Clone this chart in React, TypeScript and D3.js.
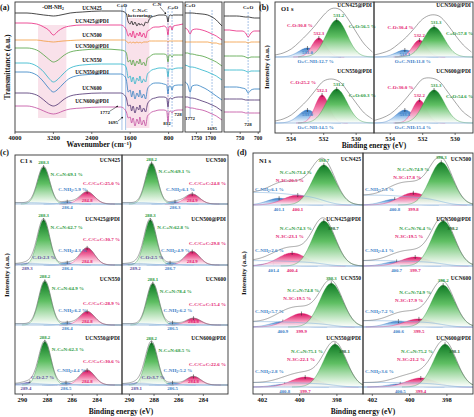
import React from 'react';
import * as d3 from 'd3';

const FONT = "'Liberation Serif','Times New Roman',Times,serif";

// ---------------- (a) FTIR ----------------
const FTIR_SAMPLES = ['UCN425', 'UCN425@PDI', 'UCN500', 'UCN500@PDI', 'UCN550', 'UCN550@PDI', 'UCN600', 'UCN600@PDI'];
const FTIR_COLORS = ['#1a1a1a', '#e8237d', '#f39a3c', '#4fa13f', '#27b3c9', '#2f7fc1', '#4b2f6e', '#c04a9e'];
const FTIR_WN = [4000, 3750, 3550, 3400, 3300, 3200, 3100, 3000, 2850, 2600, 2200, 1800, 1720, 1680, 1640, 1600, 1570, 1540, 1500, 1460, 1420, 1400, 1360, 1320, 1280, 1240, 1200, 1150, 1080, 1000, 900, 840, 812, 790, 760, 728, 700, 600, 500];
const T_UCN425 = [119, 119, 118, 117, 116.5, 116, 116.5, 117.5, 119, 120, 121, 121, 120, 118, 110, 108, 111, 107, 110, 106, 109, 107, 108, 106, 110, 109, 113, 115, 116, 117, 117, 116, 110, 116, 117, 116, 117, 117, 117];
const T_UCN425PDI = [109, 109, 108, 105, 102, 97, 101, 104, 106, 107, 107, 107, 105, 102, 96, 99, 95, 101, 94, 99, 96, 100, 95, 99, 94, 101, 102, 104, 105, 105, 106, 104, 97, 105, 106, 102, 106, 107, 108];
const T_UCN500 = [92, 92, 92, 91, 90.5, 90, 90.5, 91, 91.5, 92, 92, 92, 92, 91, 89, 90, 89, 90, 89, 90, 89, 90, 89, 90, 90, 90, 91, 91, 91, 91, 91, 91, 90, 91, 91, 91, 91, 91, 91];
const T_UCN500PDI = [84, 84, 82, 77, 73, 70, 72, 76, 80, 82, 83, 82, 81, 79, 70, 72, 67, 72, 66, 71, 68, 73, 67, 70, 66, 74, 75, 77, 78, 78, 78, 77, 70, 77, 77, 75, 77, 77, 77];
const T_UCN550 = [69, 69, 66, 60, 54, 50, 53, 58, 64, 67, 68, 68, 67, 64, 54, 56, 50, 55, 48, 54, 51, 56, 49, 53, 50, 58, 60, 62, 63, 64, 64, 63, 55, 63, 63, 62, 63, 64, 64];
const T_UCN550PDI = [60, 60, 57, 50, 44, 40, 43, 48, 54, 57, 58, 58, 56, 52, 40, 42, 35, 41, 33, 39, 35, 42, 34, 38, 33, 43, 46, 48, 49, 49, 48, 47, 38, 46, 46, 42, 46, 47, 47];
const T_UCN600 = [39, 39, 37, 32, 28, 26, 28, 32, 36, 38, 39, 39, 37, 34, 26, 27, 21, 26, 19, 25, 22, 27, 20, 24, 20, 28, 31, 33, 34, 35, 35, 34, 25, 33, 34, 33, 34, 35, 35];
const T_UCN600PDI = [26, 26, 24, 21, 19, 18, 19, 21, 23, 24, 25, 25, 23, 20, 14, 15, 9, 14, 6, 13, 8, 15, 7, 12, 6, 16, 18, 20, 21, 22, 22, 21, 10, 20, 21, 19, 21, 22, 22];
const FTIR_T = [T_UCN425, T_UCN425PDI, T_UCN500, T_UCN500PDI, T_UCN550, T_UCN550PDI, T_UCN600, T_UCN600PDI];

const INSET1_WN = [1790, 1780, 1772, 1765, 1750, 1730, 1710, 1695, 1680, 1670, 1660];
const INSET1_T = [
  [119, 119, 119, 119, 118.5, 118, 117, 115, 112, 109, 106],
  [104, 102, 98, 102, 103, 102, 100, 98, 96, 94, 92],
  [90, 90, 90, 90, 90, 90, 90, 89, 89, 88, 88],
  [79, 79, 78, 78, 77, 76, 74, 72, 70, 68, 66],
  [67, 66, 65, 65, 64, 62, 60, 58, 56, 54, 52],
  [50, 47, 40, 46, 47, 45, 42, 39, 36, 34, 32],
  [35, 35, 34, 34, 33, 31, 29, 27, 25, 23, 21],
  [25, 25, 24, 24, 23, 22, 20, 18, 16, 14, 12],
];
const INSET2_WN = [795, 780, 760, 745, 735, 728, 720, 710, 695];
const INSET2_T = [
  [116, 116, 116, 115.5, 115, 115, 114.5, 114, 114],
  [102, 102, 101, 101, 99, 95, 99, 101, 101],
  [90, 90, 90, 90, 90, 89, 90, 90, 90],
  [76, 76, 76, 76, 75, 74, 75, 75, 75],
  [62, 62, 62, 62, 61, 60, 61, 61, 61],
  [45, 45, 45, 44, 43, 39, 42, 43, 43],
  [33, 33, 33, 33, 32, 32, 32, 32, 32],
  [20, 20, 20, 20, 19, 19, 19, 19, 19],
];
const FTIR_TICKS = [4000, 3200, 2400, 1600, 800];
const INSET1_TICKS = [1750, 1700];
const INSET2_TICKS = [750, 700];

// ---------------- (b) O1s ----------------
const O1S_SAMPLES = ['UCN425@PDI', 'UCN500@PDI', 'UCN550@PDI', 'UCN600@PDI'];
const O1S_CEQO = [[531.2, 56.5, 0.74], [531.3, 57.8, 0.6], [531.2, 60.3, 0.68], [531.3, 54.6, 0.66]];
const O1S_CO = [[532.3, 30.8, 0.38], [532.2, 30.4, 0.34], [532.1, 25.2, 0.56], [532.2, 30.0, 0.46]];
const O1S_OCNH = [[533.0, 12.7, 0.18], [533.1, 11.8, 0.14], [533.0, 14.5, 0.26], [533.1, 15.4, 0.26]];
const O1S_FWHM = [1.5, 1.0, 1.3];
const O1S_ENV_BE = [535, 534.5, 534, 533.5, 533, 532.5, 532, 531.5, 531, 530.5, 530, 529.5, 529];
const O1S_ENV = [
  [0.04, 0.08, 0.16, 0.3, 0.46, 0.64, 0.84, 0.97, 0.95, 0.76, 0.5, 0.26, 0.1],
  [0.04, 0.08, 0.14, 0.26, 0.4, 0.58, 0.76, 0.84, 0.82, 0.66, 0.44, 0.24, 0.1],
  [0.04, 0.08, 0.16, 0.3, 0.46, 0.66, 0.84, 0.88, 0.82, 0.62, 0.4, 0.2, 0.08],
  [0.05, 0.1, 0.18, 0.32, 0.5, 0.7, 0.88, 0.9, 0.84, 0.64, 0.42, 0.22, 0.1],
];
const O1S_TICKS = [534, 532, 530];

// ---------------- (c) C1s ----------------
const C1S_SAMPLES = ['UCN425', 'UCN500', 'UCN425@PDI', 'UCN500@PDI', 'UCN550', 'UCN600', 'UCN550@PDI', 'UCN600@PDI'];
const C1S_NCN = [[288.3, 69.1, 0.82], [288.2, 69.1, 0.9], [288.3, 62.7, 1.0], [288.3, 62.8, 1.0], [288.2, 64.9, 0.97], [288.1, 78.4, 0.92], [288.2, 62.3, 0.96], [288.2, 68.5, 0.94]];
const C1S_CNH2 = [[286.4, 5.9, 0.05], [286.3, 6.1, 0.05], [286.4, 4.3, 0.05], [286.7, 4.9, 0.05], [286.4, 6.2, 0.05], [286.5, 6.2, 0.05], [286.5, 4.4, 0.05], [286.5, 5.2, 0.05]];
const C1S_CC = [[284.8, 25.0, 0.27], [284.9, 24.8, 0.22], [284.8, 30.7, 0.38], [284.9, 29.8, 0.3], [284.8, 28.9, 0.3], [284.8, 15.4, 0.15], [284.8, 30.6, 0.33], [284.8, 22.6, 0.19]];
const C1S_CO = [null, null, [289.3, 2.3, 0.05], [289.2, 2.5, 0.04], null, null, [289.4, 2.7, 0.06], [289.1, 3.7, 0.06]];
const C1S_FWHM = [1.15, 1.2, 1.4, 1.4];
const C1S_TICKS = [290, 288, 286, 284];

// ---------------- (d) N1s ----------------
const N1S_SAMPLES = ['UCN425', 'UCN500', 'UCN425@PDI', 'UCN500@PDI', 'UCN550', 'UCN600', 'UCN550@PDI', 'UCN600@PDI'];
const N1S_NCN = [[398.7, 73.4, 0.89], [398.3, 74.9, 0.95], [398.7, 74.3, 1.0], [398.2, 76.4, 1.0], [398.3, 74.8, 0.97], [398.2, 74.9, 0.93], [398.1, 75.1, 0.95], [398.1, 75.2, 0.95]];
const N1S_N3C = [[400.1, 20.5, 0.22], [399.8, 17.8, 0.27], [400.4, 23.1, 0.29], [399.7, 19.5, 0.2], [399.9, 19.5, 0.3], [399.5, 17.9, 0.18], [399.7, 22.1, 0.22], [399.4, 21.2, 0.2]];
const N1S_CNH2 = [[401.1, 6.1, 0.15], [400.8, 7.3, 0.13], [401.4, 2.6, 0.06], [400.7, 4.1, 0.1], [400.9, 5.7, 0.12], [400.6, 7.2, 0.13], [400.8, 2.8, 0.06], [400.5, 3.6, 0.07]];
const N1S_BG = [0.28, 0.22, 0.12, 0.12, 0.12, 0.14, 0.1, 0.1];
const N1S_FWHM = [1.45, 1.8, 1.5];
const N1S_TICKS = [402, 400, 398];

// ---------------- styles / layout ----------------
const GREEN = '#27973a';
const PINK = '#e3176d';
const BLUE = '#3b7ec6';
const PURPLE = '#5a4a9c';
const TXT = '#111';
const N1S_VALUE_INSIDE = [false, false, true, true, false, false, true, true];

const gauss = (x: number, c: number, h: number, w: number) => h * Math.exp((-4 * Math.LN2 * (x - c) * (x - c)) / (w * w));

const Sub2 = ({ pre, post }: { pre: string; post: string }) => (
  <>
    {pre}
    <tspan fontSize="0.7em" dy={1.3}>2</tspan>
    <tspan dy={-1.3}>{post}</tspan>
  </>
);

function grid(a: number, b: number, step: number) {
  const out: number[] = [];
  for (let v = a; v <= b + 1e-9; v += step) out.push(v);
  return out;
}

type Peak = { be: number; h: number; w: number; grad: string; stroke: string };

function PeakSet({ xs, base, unit, peaks, env, bg, clip }: { xs: d3.ScaleLinear<number, number>; base: number; unit: number; peaks: Peak[]; env?: [number, number][]; bg?: number; clip: string }) {
  const dom = xs.domain();
  const lo = Math.min(dom[0], dom[1]);
  const hi = Math.max(dom[0], dom[1]);
  const g = grid(lo, hi, 0.03);
  const area = d3.area<[number, number]>().x(d => xs(d[0])).y0(base).y1(d => base - d[1] * unit).curve(d3.curveBasis);
  const line = d3.line<[number, number]>().x(d => xs(d[0])).y(d => base - d[1] * unit).curve(d3.curveBasis);
  let envelope: [number, number][] = env || [];
  let bgLine: [number, number][] = [];
  if (!env) {
    const sums = g.map(x => peaks.reduce((s, p) => s + gauss(x, p.be, p.h, p.w), 0));
    const total = d3.sum(sums);
    let cum = 0;
    const bgs = sums.map(s => { cum += s; return (bg || 0) * cum / total; });
    envelope = g.map((x, i) => [x, sums[i] + bgs[i]]);
    bgLine = g.map((x, i) => [x, bgs[i]]);
  }
  return (
    <g clipPath={`url(#${clip})`}>
      {peaks.map((p, i) => {
        const pts: [number, number][] = g.filter(x => Math.abs(x - p.be) < p.w * 1.6).map(x => [x, gauss(x, p.be, p.h, p.w)]);
        return (
          <g key={i}>
            <path d={area(pts) || ''} fill={`url(#${p.grad})`} />
            <path d={line(pts) || ''} fill="none" stroke={p.stroke} strokeWidth={0.5} opacity={0.8} />
            <line x1={xs(p.be)} x2={xs(p.be)} y1={base - p.h * unit - 2} y2={base - p.h * unit + 2} stroke="#333" strokeWidth={0.6} />
          </g>
        );
      })}
      {bgLine.length > 0 && <path d={line(bgLine) || ''} fill="none" stroke="#7fb0dc" strokeWidth={0.6} />}
      <line x1={xs(hi)} x2={xs(lo)} y1={base} y2={base} stroke="#6f9fd0" strokeWidth={0.6} />
      <path d={(env ? d3.line<[number, number]>().x(d => xs(d[0])).y(d => base - d[1] * unit).curve(d3.curveCatmullRom)(envelope) : line(envelope)) || ''} fill="none" stroke="#6a6a6a" strokeWidth={0.6} />
    </g>
  );
}

function Frame({ x0, x1, y0, y1 }: { x0: number; x1: number; y0: number; y1: number }) {
  return <rect x={x0} y={y0} width={x1 - x0} height={y1 - y0} fill="none" stroke="#333" strokeWidth={0.9} />;
}

function XTicks({ xs, ticks, y, fs = 6.5 }: { xs: d3.ScaleLinear<number, number>; ticks: number[]; y: number; fs?: number }) {
  return (
    <g>
      {ticks.map(t => (
        <g key={t}>
          <line x1={xs(t)} x2={xs(t)} y1={y} y2={y + 2} stroke="#333" strokeWidth={0.7} />
          <text x={xs(t)} y={y + 8} textAnchor="middle" fontSize={fs} fontWeight="bold" fill={TXT}>{t}</text>
        </g>
      ))}
    </g>
  );
}

function PanelA() {
  const xA = d3.scaleLinear().domain([4000, 500]).range([15, 183]);
  const xI1 = d3.scaleLinear().domain([1790, 1660]).range([185, 222]);
  const xI2 = d3.scaleLinear().domain([795, 695]).range([224, 260]);
  const yA = d3.scaleLinear().domain([0, 130]).range([132, 2]);
  const mk = (xs: d3.ScaleLinear<number, number>, wn: number[]) =>
    d3.line<number>().x((_, i) => xs(wn[i])).y(d => yA(d)).curve(d3.curveMonotoneX);
  const labY = [10, 23, 37, 48, 62, 74, 90, 103];
  return (
    <g>
      <clipPath id="clipA"><rect x={15} y={2} width={168} height={130} /></clipPath>
      <clipPath id="clipI1"><rect x={185} y={2} width={37} height={130} /></clipPath>
      <clipPath id="clipI2"><rect x={224} y={2} width={36} height={130} /></clipPath>
      <rect x={xA(3520)} y={yA(107)} width={xA(2930) - xA(3520)} height={yA(14) - yA(107)} fill="#f9e1ea" />
      <rect x={xA(1680)} y={yA(114)} width={xA(1200) - xA(1680)} height={yA(4) - yA(114)} fill="#f9e1ea" />
      <rect x={xA(835)} y={yA(114)} width={xA(795) - xA(835)} height={yA(8) - yA(114)} fill="#f9e1ea" />
      {[1772, 1695].map(w => <line key={w} x1={xA(w)} x2={xA(w)} y1={yA(128)} y2={yA(2)} stroke="#6d9bd6" strokeWidth={0.6} />)}
      {[812, 728].map(w => <line key={w} x1={xA(w)} x2={xA(w)} y1={yA(124)} y2={yA(4)} stroke="#6d9bd6" strokeWidth={0.6} strokeDasharray="2,1" />)}
      <g clipPath="url(#clipA)">
        {FTIR_T.map((t, i) => <path key={i} d={mk(xA, FTIR_WN)(t) || ''} fill="none" stroke={FTIR_COLORS[i]} strokeWidth={0.8} />)}
      </g>
      <line x1={xI1(1772)} x2={xI1(1772)} y1={yA(122)} y2={yA(14)} stroke="#6d9bd6" strokeWidth={0.6} />
      <line x1={xI1(1695)} x2={xI1(1695)} y1={yA(122)} y2={yA(6)} stroke="#6d9bd6" strokeWidth={0.6} strokeDasharray="2,1" />
      <g clipPath="url(#clipI1)">
        {INSET1_T.map((t, i) => <path key={i} d={mk(xI1, INSET1_WN)(t) || ''} fill="none" stroke={FTIR_COLORS[i]} strokeWidth={0.8} />)}
      </g>
      <line x1={xI2(728)} x2={xI2(728)} y1={yA(120)} y2={yA(10)} stroke="#6d9bd6" strokeWidth={0.6} strokeDasharray="2,1" />
      <g clipPath="url(#clipI2)">
        {INSET2_T.map((t, i) => <path key={i} d={mk(xI2, INSET2_WN)(t) || ''} fill="none" stroke={FTIR_COLORS[i]} strokeWidth={0.8} />)}
      </g>
      <Frame x0={15} x1={183} y0={2} y1={132} />
      <Frame x0={185} x1={222} y0={2} y1={132} />
      <Frame x0={224} x1={260} y0={2} y1={132} />
      <XTicks xs={xA} ticks={FTIR_TICKS} y={132} />
      <XTicks xs={xI1} ticks={INSET1_TICKS} y={132} fs={5.5} />
      <XTicks xs={xI2} ticks={INSET2_TICKS} y={132} fs={5.5} />
      <text x={99} y={147} textAnchor="middle" fontSize={7.5} fontWeight="bold" fill={TXT}>Wavenumber (cm<tspan fontSize={5} dy={-2.5}>−1</tspan><tspan dy={2.5}>)</tspan></text>
      <text transform="translate(10,67) rotate(-90)" textAnchor="middle" fontSize={7.5} fontWeight="bold" fill={TXT}>Transmittance (a.u.)</text>
      <text x={0} y={10} fontSize={8} fontWeight="bold" fill={TXT}>(a)</text>
      {FTIR_SAMPLES.map((s, i) => <text key={s} x={92} y={labY[i]} textAnchor="middle" fontSize={5.3} fontWeight="bold" fill={TXT}>{s}</text>)}
      <text x={53} y={9} textAnchor="middle" fontSize={5.3} fontWeight="bold" fill={TXT}>-OH-NH<tspan fontSize={3.8} dy={1.2}>2</tspan></text>
      <text x={122} y={7} textAnchor="middle" fontSize={5} fontWeight="bold" fill={TXT}>C=O</text>
      <text x={140} y={12} textAnchor="middle" fontSize={5} fontWeight="bold" fill={TXT}>C-N=C</text>
      <text x={140} y={17} textAnchor="middle" fontSize={5} fontWeight="bold" fill={TXT}>heterorings</text>
      <text x={157} y={6} textAnchor="middle" fontSize={5} fontWeight="bold" fill={TXT}>C-N</text>
      <line x1={160} y1={7} x2={166} y2={14} stroke="#111" strokeWidth={0.5} markerEnd="url(#arr)" />
      <text x={173} y={9} textAnchor="middle" fontSize={5} fontWeight="bold" fill={TXT}>C=O</text>
      <text x={105} y={114} textAnchor="middle" fontSize={5} fontWeight="bold" fill={TXT}>1772</text>
      <line x1={110} y1={111} x2={118} y2={106} stroke="#111" strokeWidth={0.5} markerEnd="url(#arr)" />
      <text x={113} y={124} textAnchor="middle" fontSize={5} fontWeight="bold" fill={TXT}>1695</text>
      <line x1={118} y1={121} x2={123} y2={117} stroke="#111" strokeWidth={0.5} markerEnd="url(#arr)" />
      <text x={167} y={125} textAnchor="middle" fontSize={5} fontWeight="bold" fill={TXT}>812</text>
      <text x={178} y={116} textAnchor="middle" fontSize={5} fontWeight="bold" fill={TXT}>728</text>
      <text x={xI1(1772)} y={7} textAnchor="middle" fontSize={5} fontWeight="bold" fill={TXT}>C=O</text>
      <text x={xI1(1772)} y={120} textAnchor="middle" fontSize={5} fontWeight="bold" fill={TXT}>1772</text>
      <text x={xI1(1695)} y={130} textAnchor="middle" fontSize={5} fontWeight="bold" fill={TXT}>1695</text>
      <text x={xI2(728)} y={9} textAnchor="middle" fontSize={5} fontWeight="bold" fill={TXT}>C=O</text>
      <text x={xI2(728)} y={126} textAnchor="middle" fontSize={5} fontWeight="bold" fill={TXT}>728</text>
    </g>
  );
}

function PanelB() {
  const cols: [number, number][] = [[275, 374], [374, 473]];
  const bases = [57, 123];
  const unit = 50;
  return (
    <g>
      {cols.map((c, ci) => <clipPath key={ci} id={`clipB${ci}`}><rect x={c[0]} y={2} width={c[1] - c[0]} height={131} /></clipPath>)}
      {O1S_SAMPLES.map((s, i) => {
        const row = Math.floor(i / 2), col = i % 2;
        const xs = d3.scaleLinear().domain([535, 528.9]).range(cols[col]);
        const base = bases[row];
        const g = O1S_CEQO[i], p = O1S_CO[i], b = O1S_OCNH[i];
        const peaks: Peak[] = [
          { be: b[0], h: b[2], w: O1S_FWHM[2], grad: 'gBlue', stroke: BLUE },
          { be: p[0], h: p[2], w: O1S_FWHM[1], grad: 'gPink', stroke: PINK },
          { be: g[0], h: g[2], w: O1S_FWHM[0], grad: 'gGreen', stroke: GREEN },
        ];
        const env: [number, number][] = O1S_ENV_BE.map((be, k) => [be, O1S_ENV[i][k]]);
        const gy = base - g[2] * unit, py = base - p[2] * unit, by = base - b[2] * unit;
        return (
          <g key={s}>
            <PeakSet xs={xs} base={base} unit={unit} peaks={peaks} env={env} clip={`clipB${col}`} />
            <text x={cols[col][1] - 2} y={base - 50} textAnchor="end" fontSize={5.5} fontWeight="bold" fill={TXT}>{s}</text>
            <text x={xs(g[0]) + 2} y={gy - 3} textAnchor="middle" fontSize={4.8} fontWeight="bold" fill={GREEN}>{g[0].toFixed(1)}</text>
            <text x={xs(p[0])} y={py - 3} textAnchor="middle" fontSize={4.8} fontWeight="bold" fill={PINK}>{p[0].toFixed(1)}</text>
            <text x={xs(b[0])} y={by + 6} textAnchor="middle" fontSize={4.8} fontWeight="bold" fill={BLUE}>{b[0].toFixed(1)}</text>
            <text x={xs(p[0]) - 6} y={py - 11} textAnchor="end" fontSize={5} fontWeight="bold" fill={PINK}>C-O:{p[1].toFixed(1)} %</text>
            <text x={xs(g[0]) + 12} y={gy + 8} textAnchor="start" fontSize={5} fontWeight="bold" fill={GREEN}>C=O:{g[1].toFixed(1)} %</text>
            <text x={xs(b[0]) - 10} y={base + 6} textAnchor="start" fontSize={5} fontWeight="bold" fill={BLUE}>O=C-NH:{b[1].toFixed(1)} %</text>
          </g>
        );
      })}
      {cols.map((c, ci) => {
        const xs = d3.scaleLinear().domain([535, 528.9]).range(c);
        return (
          <g key={ci}>
            <Frame x0={c[0]} x1={c[1]} y0={2} y1={133} />
            <XTicks xs={xs} ticks={O1S_TICKS} y={133} />
          </g>
        );
      })}
      <text x={374} y={148} textAnchor="middle" fontSize={7.5} fontWeight="bold" fill={TXT}>Binding energy (eV)</text>
      <text transform="translate(269,67) rotate(-90)" textAnchor="middle" fontSize={7} fontWeight="bold" fill={TXT}>Intensity (a.u.)</text>
      <text x={259} y={10} fontSize={8} fontWeight="bold" fill={TXT}>(b)</text>
      <text x={281} y={11} fontSize={6.5} fontWeight="bold" fill={TXT}>O1 s</text>
    </g>
  );
}

function PanelC() {
  const cols: [number, number][] = [[15, 122], [122, 228]];
  const bases = [204, 265, 325, 385];
  const tops = [155, 214, 274, 333];
  const unit = 45;
  const top = 155, bottom = 394;
  return (
    <g>
      {cols.map((c, ci) => <clipPath key={ci} id={`clipC${ci}`}><rect x={c[0]} y={top} width={c[1] - c[0]} height={bottom - top} /></clipPath>)}
      {C1S_SAMPLES.map((s, i) => {
        const row = Math.floor(i / 2), col = i % 2;
        const xs = d3.scaleLinear().domain([290.6, 282.0]).range(cols[col]);
        const base = bases[row];
        const g = C1S_NCN[i], b = C1S_CNH2[i], p = C1S_CC[i], o = C1S_CO[i];
        const peaks: Peak[] = [];
        if (o) peaks.push({ be: o[0], h: o[2], w: C1S_FWHM[3], grad: 'gPurple', stroke: PURPLE });
        peaks.push({ be: b[0], h: b[2], w: C1S_FWHM[1], grad: 'gBlue', stroke: BLUE });
        peaks.push({ be: p[0], h: p[2], w: C1S_FWHM[2], grad: 'gPink', stroke: PINK });
        peaks.push({ be: g[0], h: g[2], w: C1S_FWHM[0], grad: 'gGreen', stroke: GREEN });
        const gy = base - g[2] * unit, py = base - p[2] * unit;
        const pinkLabY = Math.min(py - 7, base - 19);
        return (
          <g key={s}>
            <PeakSet xs={xs} base={base} unit={unit} peaks={peaks} bg={0.03} clip={`clipC${col}`} />
            <text x={cols[col][1] - 2} y={tops[row] + 7} textAnchor="end" fontSize={5.5} fontWeight="bold" fill={TXT}>{s}</text>
            <text x={xs(g[0])} y={gy - 3} textAnchor="middle" fontSize={4.8} fontWeight="bold" fill={GREEN}>{g[0].toFixed(1)}</text>
            <text x={xs(g[0]) + 7} y={gy + 9} textAnchor="start" fontSize={5} fontWeight="bold" fill={GREEN}>N-C=N:{g[1].toFixed(1)} %</text>
            <text x={xs(b[0]) - 9} y={base - 13} textAnchor="start" fontSize={5} fontWeight="bold" fill={BLUE}><Sub2 pre="C-NH" post={`:${b[1].toFixed(1)} %`} /></text>
            <text x={xs(b[0])} y={base + 5} textAnchor="middle" fontSize={4.8} fontWeight="bold" fill={BLUE}>{b[0].toFixed(1)}</text>
            <text x={cols[col][1] - 2} y={pinkLabY} textAnchor="end" fontSize={5} fontWeight="bold" fill={PINK}>C-C/C=C:{p[1].toFixed(1)} %</text>
            <text x={xs(p[0])} y={base - 2} textAnchor="middle" fontSize={4.8} fontWeight="bold" fill={PINK}>{p[0].toFixed(1)}</text>
            {o && <text x={xs(o[0]) + 1} y={base - 6} textAnchor="start" fontSize={5} fontWeight="bold" fill={PURPLE}>C-O:{o[1].toFixed(1)} %</text>}
            {o && <text x={xs(o[0]) - 4} y={base + 5} textAnchor="middle" fontSize={4.8} fontWeight="bold" fill={PURPLE}>{o[0].toFixed(1)}</text>}
          </g>
        );
      })}
      {cols.map((c, ci) => {
        const xs = d3.scaleLinear().domain([290.6, 282.0]).range(c);
        return (
          <g key={ci}>
            <Frame x0={c[0]} x1={c[1]} y0={top} y1={bottom} />
            <XTicks xs={xs} ticks={C1S_TICKS} y={bottom} />
          </g>
        );
      })}
      <text x={121} y={414} textAnchor="middle" fontSize={7.5} fontWeight="bold" fill={TXT}>Binding energy (eV)</text>
      <text transform="translate(9,275) rotate(-90)" textAnchor="middle" fontSize={7} fontWeight="bold" fill={TXT}>Intensity (a.u.)</text>
      <text x={0} y={155} fontSize={8} fontWeight="bold" fill={TXT}>(c)</text>
      <text x={20} y={163} fontSize={6.5} fontWeight="bold" fill={TXT}>C1 s</text>
    </g>
  );
}

function PanelD() {
  const cols: [number, number][] = [[253, 363], [363, 473]];
  const bases = [205, 266, 327, 387];
  const tops = [153, 213, 272, 332];
  const unit = 45;
  const top = 153, bottom = 394;
  return (
    <g>
      {cols.map((c, ci) => <clipPath key={ci} id={`clipD${ci}`}><rect x={c[0]} y={top} width={c[1] - c[0]} height={bottom - top} /></clipPath>)}
      {N1S_SAMPLES.map((s, i) => {
        const row = Math.floor(i / 2), col = i % 2;
        const xs = d3.scaleLinear().domain([402.5, 396.6]).range(cols[col]);
        const base = bases[row];
        const g = N1S_NCN[i], p = N1S_N3C[i], b = N1S_CNH2[i];
        const peaks: Peak[] = [
          { be: b[0], h: b[2], w: N1S_FWHM[2], grad: 'gBlue', stroke: BLUE },
          { be: p[0], h: p[2], w: N1S_FWHM[1], grad: 'gPink', stroke: PINK },
          { be: g[0], h: g[2], w: N1S_FWHM[0], grad: 'gGreen', stroke: GREEN },
        ];
        const gy = base - g[2] * unit;
        const inside = N1S_VALUE_INSIDE[i];
        return (
          <g key={s}>
            <PeakSet xs={xs} base={base} unit={unit} peaks={peaks} bg={N1S_BG[i]} clip={`clipD${col}`} />
            <text x={cols[col][1] - 2} y={tops[row] + 8} textAnchor="end" fontSize={5.5} fontWeight="bold" fill={TXT}>{s}</text>
            <text x={inside ? xs(g[0]) + 4 : xs(g[0])} y={inside ? gy + 9 : gy - 3} textAnchor={inside ? 'start' : 'middle'} fontSize={4.8} fontWeight="bold" fill={inside ? '#1d5e2a' : GREEN}>{g[0].toFixed(1)}</text>
            <text x={xs(g[0]) - 12} y={gy + 9} textAnchor="end" fontSize={5} fontWeight="bold" fill={GREEN}>N-C=N:{g[1].toFixed(1)} %</text>
            <text x={xs(g[0]) - 20} y={gy + 17} textAnchor="end" fontSize={5} fontWeight="bold" fill={PINK}>N-3C:{p[1].toFixed(1)} %</text>
            <text x={cols[col][0] + 2} y={base - 14} textAnchor="start" fontSize={5} fontWeight="bold" fill={BLUE}><Sub2 pre="C-NH" post={`:${b[1].toFixed(1)} %`} /></text>
            <text x={xs(b[0])} y={base + 6} textAnchor="middle" fontSize={4.8} fontWeight="bold" fill={BLUE}>{b[0].toFixed(1)}</text>
            <text x={xs(p[0])} y={base + 6} textAnchor="middle" fontSize={4.8} fontWeight="bold" fill={PINK}>{p[0].toFixed(1)}</text>
          </g>
        );
      })}
      {cols.map((c, ci) => {
        const xs = d3.scaleLinear().domain([402.5, 396.6]).range(c);
        return (
          <g key={ci}>
            <Frame x0={c[0]} x1={c[1]} y0={top} y1={bottom} />
            <XTicks xs={xs} ticks={N1S_TICKS} y={bottom} />
          </g>
        );
      })}
      <text x={363} y={414} textAnchor="middle" fontSize={7.5} fontWeight="bold" fill={TXT}>Binding energy (eV)</text>
      <text transform="translate(246,273) rotate(-90)" textAnchor="middle" fontSize={7} fontWeight="bold" fill={TXT}>Intensity (a.u.)</text>
      <text x={237} y={155} fontSize={8} fontWeight="bold" fill={TXT}>(d)</text>
      <text x={259} y={163} fontSize={6.5} fontWeight="bold" fill={TXT}>N1 s</text>
    </g>
  );
}

function Grad({ id, c1, c2 }: { id: string; c1: string; c2: string }) {
  return (
    <linearGradient id={id} x1="0" y1="0" x2="0" y2="1">
      <stop offset="0" stopColor={c1} />
      <stop offset="0.45" stopColor={c2} />
      <stop offset="1" stopColor="#ffffff" stopOpacity={0.9} />
    </linearGradient>
  );
}

export default function App() {
  return (
    <svg width={474} height={417} viewBox="0 0 474 417" style={{ position: 'absolute', left: 0, top: 0, background: '#fff' }} fontFamily={FONT}>
      <defs>
        <Grad id="gGreen" c1="#0f7a25" c2="#5fbf63" />
        <Grad id="gPink" c1="#d80f5f" c2="#f27aa8" />
        <Grad id="gBlue" c1="#2f74c0" c2="#8dbbe8" />
        <Grad id="gPurple" c1="#4d3f94" c2="#a59cd2" />
        <marker id="arr" viewBox="0 0 6 6" refX="5" refY="3" markerWidth="4" markerHeight="4" orient="auto">
          <path d="M0,0 L6,3 L0,6 z" fill="#111" />
        </marker>
      </defs>
      <rect x={0} y={0} width={474} height={417} fill="#fff" />
      <PanelA />
      <PanelB />
      <PanelC />
      <PanelD />
    </svg>
  );
}
